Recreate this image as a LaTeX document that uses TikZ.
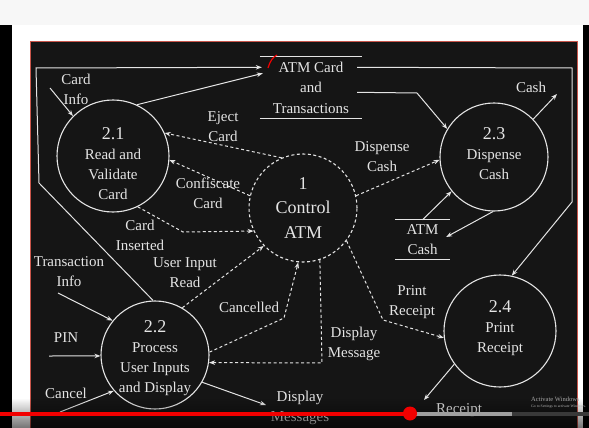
\documentclass[tikz,border=0pt]{standalone}
\usepackage{fontspec}
\setmainfont{Liberation Serif}
\usetikzlibrary{arrows.meta,calc,fadings}
\definecolor{bg}{HTML}{151515}
\definecolor{fg}{HTML}{E4E4E4}
\definecolor{topgray}{HTML}{F7F7F7}
\definecolor{ytred}{HTML}{F20000}
\definecolor{slideborder}{HTML}{C9554A}
\begin{document}
\begin{tikzpicture}[x=1pt,y=-1pt,
  proc/.style={circle,draw=fg,line width=1.1pt,inner sep=0pt},
  ctrl/.style={circle,draw=fg,line width=1.1pt,inner sep=0pt,dash pattern=on 3pt off 2.5pt},
  ptxt/.style={text=fg,align=center,inner sep=0pt,font=\fontsize{15}{20}\selectfont},
  lbl/.style={text=fg,align=center,inner sep=0pt,font=\fontsize{15}{20}\selectfont},
  store/.style={text=fg,align=center,inner sep=0pt,font=\fontsize{15}{20.5}\selectfont},
  flow/.style={draw=fg,line width=1pt,-{Stealth[length=6pt,width=4.5pt]}},
  cflow/.style={draw=fg,line width=1pt,dash pattern=on 3pt off 2.5pt,-{Stealth[length=6pt,width=4.5pt]}},
  sline/.style={draw=fg,line width=1pt}]
\clip (0,0) rectangle (589,428);
\useasboundingbox (0,0) rectangle (589,428);
% screen frame
\fill[white] (0,0) rectangle (589,428);
\fill[topgray] (0,0) rectangle (589,25);
\fill[black] (0,25) rectangle (12,428);
\fill[black] (583,25) rectangle (589,428);
\fill[bg] (30,42) rectangle (577,440);
\draw[slideborder,line width=1pt] (30,440) -- (30,42) -- (577,42) -- (577,440);

% processes
\node[proc,minimum size=112pt] (p21) at (113,156) {};
\node[ptxt] (t21) at (113,164) {{\fontsize{18}{20}\selectfont 2.1}\\Read and\\Validate\\Card};
\node[ctrl,minimum size=108pt] (p1) at (303,208) {};
\node[ptxt,font=\fontsize{18}{24.5}\selectfont] (t1) at (303,208) {1\\Control\\ATM};
\node[proc,minimum size=108pt] (p23) at (494,157) {};
\node[ptxt] (t23) at (494,154) {{\fontsize{18}{20}\selectfont 2.3}\\Dispense\\Cash};
\node[proc,minimum size=112pt] (p24) at (500,331) {};
\node[ptxt] (t24) at (500,328) {{\fontsize{18}{20}\selectfont 2.4}\\Print\\Receipt};
\node[proc,minimum size=108pt] (p22) at (155,355) {};
\node[ptxt] (t22) at (155,358) {{\fontsize{18}{20}\selectfont 2.2}\\Process\\User Inputs\\and Display};

% data stores
\node[store,minimum width=102pt,minimum height=61pt] (st1) at (311,87.5) {ATM Card\\and\\Transactions};
\draw[sline] (st1.north west) -- (st1.north east);
\draw[sline] (st1.south west) -- (st1.south east);
\draw[ytred,line width=1.2pt] (268,68) .. controls (270,61) and (273,57) .. (277,55);
\node[store,minimum width=55pt,minimum height=39pt] (st2) at (422.5,239.5) {ATM\\Cash};
\draw[sline] (st2.north west) -- (st2.north east);
\draw[sline] (st2.south west) -- (st2.south east);

% solid flows
\coordinate (ciS) at (50,88);
\coordinate (tiS) at (58,293);
\coordinate (pinS) at (49,356);
\coordinate (canS) at (60,412);
\coordinate (cashE) at (557,94);
\coordinate (rcE) at (424,400);
\coordinate (dmE) at (266,405);
\draw[flow] (p22.92) -- (39,183) -- (36,68) -- ($(st1.north west)+(2,10.5)$);
\draw[flow] (p21.65) -- ($(st1.north west)+(3,16.5)$);
\draw[flow] (ciS) -- (p21.135);
\draw[flow] ($(st1.north east)+(-5,10.5)$) -- (572,68) -- (572,202) -- (p24.78);
\draw[flow] ($(st1.north east)+(-5,35.5)$) -- (417,93) -- (p23.149);
\draw[flow] (p23.44) -- (cashE);
\draw[flow] (st2.north) -- (p23.219);
\draw[flow] (p23.269) -- ($(st2.east)+(-4,-2.5)$);
\draw[flow] (p24.216) -- (rcE);
\draw[flow] (tiS) -- (p22.141);
\draw[flow] (pinS) -- (p22.181);
\draw[flow] (canS) -- (p22.221);
\draw[flow] (p22.-30) -- (dmE);

% control flows
\draw[cflow] (p1.113) -- (p21.24);
\draw[cflow] (p1.167) -- (p21.-4);
\draw[cflow] (p21.-64) -- (183,232) -- (p1.205);
\draw[cflow] (p22.60) -- (p1.224);
\draw[cflow] (p22.3) -- (284,318) -- (p1.265);
\draw[cflow] (p1.288) -- (322,363) -- (p22.-8);
\draw[cflow] (p1.323) -- (383,320) -- (p24.187);
\draw[cflow] (p1.13) -- (p23.183);

% labels
\node[lbl] (lci) at (76,89) {Card\\Info};
\node[lbl] (lej) at (223,127) {Eject\\Card};
\node[lbl] (lcf) at (208,193) {Confiscate\\Card};
\node[lbl] (lcin) at (140,235) {Card\\Inserted};
\node[lbl] (luir) at (185,273) {User Input\\Read};
\node[lbl] (lcan) at (249,307) {Cancelled};
\node[lbl] (ldm) at (354,344) {Display\\Message};
\node[lbl] (lpr) at (412,302) {Print\\Receipt};
\node[lbl] (ldc) at (382,157) {Dispense\\Cash};
\node[lbl] (lcash) at (531,87) {Cash};
\node[lbl] (lrc) at (459,410) {Receipt};
\node[lbl] (lti) at (69,272) {Transaction\\Info};
\node[lbl] (lpin) at (66,338) {PIN};
\node[lbl] (lcn) at (66,393) {Cancel};
\node[lbl] (ldms) at (300,408) {Display\\Messages};

% video player overlay
\fill[black,opacity=0.55,path fading=north] (0,398) rectangle (589,428);
\node[anchor=west,text=gray!70,inner sep=0pt,font=\fontsize{6.5}{6.5}\selectfont] (aw) at (531,399) {Activate Windows};
\node[anchor=west,text=gray!60,inner sep=0pt,font=\fontsize{3.8}{4}\selectfont] (gs) at (531,407) {Go to Settings to activate Windows.};
\fill[gray!45!black] (410,411.5) rectangle (589,415.5);
\fill[gray!75] (410,411.5) rectangle (512,415.5);
\fill[ytred] (0,411.5) rectangle (410,415.5);
\fill[ytred] (410,413.5) circle (7);
\end{tikzpicture}
\end{document}
